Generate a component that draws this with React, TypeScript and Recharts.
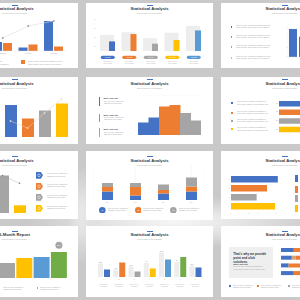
import React from 'react';
import { BarChart, Bar, ComposedChart, Line, XAxis, YAxis, CartesianGrid, Cell, LabelList } from 'recharts';

// palette
const BLUE = '#4472c4';
const ORANGE = '#ed7d31';
const GRAY = '#a5a5a5';
const YELLOW = '#ffc000';
const SKY = '#5b9bd5';
const GREEN = '#70ad47';
const PALE = '#ededed';
const INK = '#30343c';
const FONT = '"Liberation Sans", Arial, sans-serif';
const FILLER =
  'There are many variations of passages of Lorem Ipsum available, but the majority have suffered alteration in some form, by injected humour.';

// slide 1: grouped bars with trend line
const s1Cats = ['Standard', 'Premium', 'Business'];
const s1Blue = [9, 3.5, 30];
const s1Orange = [8, 6.5, 4.5];
const s1Trend = [13, 25, 30];

// slide 2: value vs. target
const s2Cats = ['A', 'B', 'C', 'D', 'E'];
const s2Target = [35, 41, 28, 40, 55];
const s2Value = [21, 37, 16, 24, 45];
const s2Ticks = [0, 10, 20, 30, 40, 50, 60, 70];

// slide 3: single column chart
const s3Cats = ['Name', 'Name', 'Name'];
const s3Values = [5.8, 4.2, 3.5];
const s3Ticks = [0, 1, 2, 3, 4, 5, 6];

// slide 4: four columns with trend
const s4Cats = ['Q1', 'Q2', 'Q3', 'Q4'];
const s4Values = [32, 18.5, 26.5, 33.5];
const s4Trend = [16, 9, 24, 38];

// slide 5: histogram
const s5Bins = ['1', '2', '3', '4', '5', '6'];
const s5Values = [12.5, 17.5, 28.5, 30, 22, 14.5];

// slide 6: horizontal bars
const s6Cats = ['Text', 'Text', 'Text', 'Text'];
const s6Values = [82, 76, 70, 79];

// slide 7: two columns with pointer
const s7Cats = ['A', 'B'];
const s7Values = [37.5, 7.7];
const s7Pointer = [37.5, 29.7];

// slide 8: stacked columns
const s8Cats = ['Text', 'Text', 'Text', 'Text'];
const s8Blue = [8.5, 4.5, 6.5, 8.5];
const s8Orange = [4.5, 8.5, 3.5, 5];
const s8Gray = [4, 4, 5.5, 9];

// slide 9: horizontal bars on 0-6 scale
const s9Cats = ['1', '2', '3', '4'];
const s9Values = [5.2, 4.0, 2.85, 4.9];
const s9Ticks = [0, 1, 2, 3, 4, 5, 6];

// slide 10: six month report
const s10Months = ['Jan', 'Feb', 'Mar', 'Apr'];
const s10Values = [15, 20, 21, 26];

// slide 11: paired columns
const s11Cats = ['1', '2', '3', '4', '5', '6', '7'];
const s11Base = [13.5, 7.5, 10.5, 14, 24.5, 15, 11.5];
const s11Values = [7.5, 14.5, 5.5, 8.5, 17.5, 20, 9.5];

// slide 12: 100% stacked rows
const s12Cats = ['A', 'B', 'C', 'D'];
const s12Blue = [32, 27, 19, 32];
const s12Gray = [0, 10, 0, 0];
const s12Orange = [68, 63, 81, 68];

const s1Data = s1Cats.map((name, i) => ({ name, blue: s1Blue[i], orange: s1Orange[i], trend: s1Trend[i] }));
const s2Data = s2Cats.map((name, i) => ({ name, target: s2Target[i], value: s2Value[i] }));
const s3Data = s3Cats.map((name, i) => ({ name, value: s3Values[i] }));
const s4Data = s4Cats.map((name, i) => ({ name, value: s4Values[i], trend: s4Trend[i] }));
const s5Data = s5Bins.map((name, i) => ({ name, value: s5Values[i] }));
const s6Data = s6Cats.map((name, i) => ({ name, value: s6Values[i] }));
const s7Data = s7Cats.map((name, i) => ({ name, value: s7Values[i], pointer: s7Pointer[i] }));
const s8Data = s8Cats.map((name, i) => ({ name, blue: s8Blue[i], orange: s8Orange[i], gray: s8Gray[i] }));
const s9Data = s9Cats.map((name, i) => ({ name, value: s9Values[i] }));
const s10Data = s10Months.map((name, i) => ({
  name,
  value: s10Values[i],
  badge: i === s10Months.length - 1 ? s10Values[i] : null,
}));
const s11Data = s11Cats.map((name, i) => ({ name, base: s11Base[i], value: s11Values[i] }));
const s12Data = s12Cats.map((name, i) => ({ name, blue: s12Blue[i], gray: s12Gray[i], orange: s12Orange[i] }));

const s2Colors = [BLUE, ORANGE, GRAY, YELLOW, SKY];
const s4Colors = [BLUE, ORANGE, GRAY, YELLOW];
const s5Colors = [BLUE, BLUE, ORANGE, ORANGE, GRAY, GRAY];
const s7Colors = [GRAY, YELLOW];
const s9Colors = [BLUE, ORANGE, GRAY, YELLOW];
const s10Colors = [GRAY, YELLOW, SKY, GREEN];
const s11Colors = [BLUE, ORANGE, GRAY, YELLOW, SKY, GREEN, BLUE];
const LIST4 = [BLUE, ORANGE, GRAY, YELLOW];

const NO_MARGIN = { top: 0, right: 0, bottom: 0, left: 0 };

const Slide = ({ left, top, height, titleY, title = 'Statistical Analysis', children }: any) => (
  <div style={{ position: 'absolute', left, top, width: 127, height, background: '#fff', overflow: 'hidden' }}>
    <div style={{ position: 'absolute', left: 60.5, top: titleY - 4.4, width: 6, height: 0.7, background: BLUE }} />
    <div
      style={{
        position: 'absolute', left: 0, top: titleY - 2.6, width: 127, height: 5.2, lineHeight: '5.2px',
        fontSize: 4.2, fontWeight: 700, color: INK, textAlign: 'center', whiteSpace: 'nowrap',
      }}
    >
      {title}
    </div>
    <div
      style={{
        position: 'absolute', left: 0, top: titleY + 4.2, width: 127, lineHeight: '1.8px',
        fontSize: 1.5, color: '#9a9a9a', textAlign: 'center', whiteSpace: 'nowrap',
      }}
    >
      Insert the subtitle of your presentation
    </div>
    {children}
  </div>
);

const Note = ({ x, y, w, lines = 2, size = 1.6, color = '#a0a0a0', align = 'left' }: any) => (
  <div
    style={{
      position: 'absolute', left: x, top: y, width: w, height: lines * size * 1.45, overflow: 'hidden',
      fontSize: size, lineHeight: `${size * 1.45}px`, color, textAlign: align,
    }}
  >
    {FILLER}
  </div>
);

const Square = ({ x, y, size = 1.8, color }: any) => (
  <div style={{ position: 'absolute', left: x, top: y, width: size, height: size, background: color }} />
);

const Place = ({ x, y, children }: any) => <div style={{ position: 'absolute', left: x, top: y }}>{children}</div>;

const PillTick = ({ x, y, index }: any) => (
  <g>
    <rect x={x - 7} y={y + 4.7} width={14} height={3.3} rx={1.65} fill={s2Colors[index]} />
    <text x={x} y={y + 6.9} textAnchor="middle" fontSize={1.5} fill="#fff">Your Title</text>
    <text x={x} y={y + 10.6} textAnchor="middle" fontSize={1.3} fill="#aaa">Insert your text</text>
    <text x={x} y={y + 12.6} textAnchor="middle" fontSize={1.3} fill="#aaa">here to explain</text>
  </g>
);

const NumberTick = ({ x, y, payload }: any) => (
  <g>
    <text x={x} y={y + 2.6} textAnchor="middle" fontSize={1.6} fill="#999">{payload.value}</text>
    <text x={x} y={y + 7.6} textAnchor="middle" fontSize={1.3} fill="#aaa">Place your text</text>
    <text x={x} y={y + 10.4} textAnchor="middle" fontSize={1.3} fill="#aaa">in this area</text>
  </g>
);

const Badge = ({ x, y, width, value }: any) => {
  if (value == null) return null;
  const cx = x + width / 2;
  return (
    <g>
      <circle cx={cx} cy={y - 6.7} r={3.5} fill={GRAY} />
      <text x={cx} y={y - 6.1} textAnchor="middle" fontSize={1.8} fill="#fff">{value}%</text>
    </g>
  );
};

const TagIcon = ({ color }: any) => (
  <svg width={7} height={6.7} viewBox="0 0 7 6.7" style={{ display: 'block' }}>
    <polygon points="0,0 4.8,0 7,3.35 4.8,6.7 0,6.7" fill={color} />
    <circle cx={3} cy={3.35} r={1.3} fill="none" stroke="#fff" strokeWidth={0.5} />
  </svg>
);

const NumCircle = ({ color, label }: any) => (
  <svg width={6.6} height={6.6} viewBox="0 0 6.6 6.6" style={{ display: 'block' }}>
    <circle cx={3.3} cy={3.3} r={3.3} fill={color} />
    <text x={3.3} y={4} textAnchor="middle" fontSize={2} fill="#fff">{label}</text>
  </svg>
);

const tinyTick = { fontSize: 1.6, fill: '#aaa' };

export default function App() {
  return (
    <div
      style={{
        position: 'fixed', left: 0, top: 0, width: 300, height: 300, overflow: 'hidden', fontFamily: FONT,
        background:
          'radial-gradient(ellipse 150px 26px at 175px 222px, #f6f6f6 0%, #e4e4e4 45%, rgba(205,205,205,0) 100%), ' +
          'radial-gradient(ellipse 14px 50px at 82px 215px, #eeeeee 0%, rgba(205,205,205,0) 100%), #c9c9c9',
      }}
    >
      {/* row 1 */}
      <Slide left={-49} top={3} height={65} titleY={6}>
        <Place x={39} y={8}>
          <ComposedChart width={76.5} height={45} data={s1Data} margin={NO_MARGIN} barGap={1}>
            <XAxis dataKey="name" height={5} tickSize={0} tickMargin={1.5} tick={tinyTick} axisLine={{ stroke: '#e6e6e6', strokeWidth: 0.4 }} />
            <YAxis hide domain={[0, 40]} />
            <Bar dataKey="blue" fill={BLUE} barSize={9} isAnimationActive={false} />
            <Bar dataKey="orange" fill={ORANGE} barSize={9} isAnimationActive={false} />
            <Line dataKey="trend" stroke="#dedede" strokeWidth={0.6} dot={{ r: 0.9, fill: '#999', stroke: 'none' }} isAnimationActive={false} />
          </ComposedChart>
        </Place>
        <Note x={40} y={58.3} w={18} />
        <Square x={70} y={57} size={4} color={ORANGE} />
        <Note x={77} y={58.3} w={38} />
      </Slide>

      <Slide left={86} top={3} height={65} titleY={6}>
        <Place x={5.25} y={15}>
          <BarChart width={113.5} height={47} data={s2Data} margin={{ top: 1, right: 0, bottom: 0, left: 0 }} barGap={-5}>
            <XAxis dataKey="name" height={14} tickSize={0} tickMargin={0} axisLine={false} tick={<PillTick />} />
            <YAxis width={6} domain={[0, 70]} ticks={s2Ticks} tickSize={0} tickMargin={1} axisLine={false} tick={{ fontSize: 1.5, fill: '#bbb' }} />
            <Bar dataKey="target" fill={PALE} barSize={14} isAnimationActive={false} />
            <Bar dataKey="value" barSize={6} isAnimationActive={false}>
              {s2Data.map((_, i) => <Cell key={i} fill={s2Colors[i]} />)}
            </Bar>
          </BarChart>
        </Place>
      </Slide>

      <Slide left={221} top={3} height={65} titleY={6}>
        {LIST4.map((c, i) => (
          <React.Fragment key={i}>
            <Square x={9.5} y={[22.8, 32.8, 43.1, 54.1][i]} size={1.9} color={c} />
            <Note x={15} y={[21.8, 31.8, 42.1, 53.1][i]} w={37} />
          </React.Fragment>
        ))}
        <Place x={63} y={24}>
          <BarChart width={34} height={35} data={s3Data} margin={{ top: 1, right: 0, bottom: 0, left: 0 }}>
            <XAxis dataKey="name" height={5} tickSize={0} tickMargin={1.5} tick={tinyTick} axisLine={{ stroke: '#ddd', strokeWidth: 0.4 }} />
            <YAxis width={4} domain={[0, 6]} ticks={s3Ticks} tickSize={0} tickMargin={0.8} tick={{ fontSize: 1.4, fill: '#bbb' }} axisLine={{ stroke: '#e3e3e3', strokeWidth: 0.4 }} />
            <Bar dataKey="value" fill={BLUE} barSize={8} isAnimationActive={false} />
          </BarChart>
        </Place>
      </Slide>

      {/* row 2 */}
      <Slide left={-49} top={77} height={67} titleY={6.8}>
        <Place x={50.5} y={20}>
          <ComposedChart width={68} height={40} data={s4Data} margin={NO_MARGIN}>
            <XAxis dataKey="name" hide />
            <YAxis hide domain={[0, 40]} />
            <Bar dataKey="value" barSize={12} isAnimationActive={false}>
              {s4Data.map((_, i) => <Cell key={i} fill={s4Colors[i]} />)}
            </Bar>
            <Line dataKey="trend" stroke="#f3c9a8" strokeWidth={0.5} dot={{ r: 0.8, fill: '#fff', stroke: '#bbb', strokeWidth: 0.3 }} isAnimationActive={false} />
          </ComposedChart>
        </Place>
      </Slide>

      <Slide left={86} top={77} height={67} titleY={6.8}>
        {[BLUE, ORANGE, GRAY].map((c, i) => (
          <React.Fragment key={i}>
            <div style={{ position: 'absolute', left: 12.5, top: [20, 36.5, 51][i], width: 1.6, height: 8.5, background: c }} />
            <div style={{ position: 'absolute', left: 17.5, top: [20.2, 36.7, 51.2][i], fontSize: 2, lineHeight: '2.2px', color: INK, fontWeight: 700, whiteSpace: 'nowrap' }}>
              Write Your Title
            </div>
            <Note x={17.5} y={[23.6, 40.1, 54.6][i]} w={21} />
          </React.Fragment>
        ))}
        <Place x={52} y={18}>
          <BarChart width={63} height={40} data={s5Data} margin={NO_MARGIN} barCategoryGap={0}>
            <CartesianGrid vertical={false} stroke="#efefef" strokeWidth={0.4} />
            <XAxis dataKey="name" hide />
            <YAxis hide domain={[0, 40]} ticks={[0, 8, 16, 24, 32, 40]} />
            <Bar dataKey="value" isAnimationActive={false}>
              {s5Data.map((_, i) => <Cell key={i} fill={s5Colors[i]} />)}
            </Bar>
          </BarChart>
        </Place>
      </Slide>

      <Slide left={221} top={77} height={67} titleY={6.8}>
        {LIST4.map((c, i) => (
          <React.Fragment key={i}>
            <Square x={10} y={[25.4, 34.8, 43.1, 51.4][i]} size={1.8} color={c} />
            <Note x={15.5} y={[24.4, 33.8, 42.1, 50.4][i]} w={33} />
          </React.Fragment>
        ))}
        <Place x={53.7} y={22.2}>
          <BarChart width={54} height={34.4} data={s6Data} layout="vertical" margin={NO_MARGIN}>
            <XAxis type="number" hide domain={[0, 100]} />
            <YAxis type="category" dataKey="name" width={4} tickSize={0} tickMargin={0.6} axisLine={false} tick={{ fontSize: 1.4, fill: '#aaa' }} />
            <Bar dataKey="value" barSize={5.5} isAnimationActive={false}>
              {s6Data.map((_, i) => <Cell key={i} fill={s9Colors[i]} />)}
            </Bar>
          </BarChart>
        </Place>
      </Slide>

      {/* row 3 */}
      <Slide left={-49} top={151} height={68} titleY={9.3}>
        <Place x={42.5} y={21.7}>
          <ComposedChart width={34} height={40} data={s7Data} margin={NO_MARGIN}>
            <XAxis dataKey="name" hide />
            <YAxis hide domain={[0, 40]} />
            <Bar dataKey="value" barSize={12} isAnimationActive={false}>
              {s7Data.map((_, i) => <Cell key={i} fill={s7Colors[i]} />)}
            </Bar>
            <Line dataKey="pointer" stroke="#9a9a9a" strokeWidth={0.35} dot={{ r: 0.8, fill: '#777', stroke: 'none' }} isAnimationActive={false} />
          </ComposedChart>
        </Place>
        {LIST4.map((c, i) => (
          <React.Fragment key={i}>
            <Place x={85} y={[21.3, 32, 43, 54][i]}>
              <TagIcon color={c} />
            </Place>
            <Note x={96} y={[22.4, 33.1, 44.1, 55.1][i]} w={22} />
          </React.Fragment>
        ))}
      </Slide>

      <Slide left={86} top={151} height={69} titleY={9.3}>
        <Place x={6.5} y={14}>
          <BarChart width={112} height={39} data={s8Data} margin={NO_MARGIN}>
            <CartesianGrid horizontal={false} stroke="#e9e9e9" strokeWidth={0.4} />
            <XAxis dataKey="name" height={4} tickSize={0} tickMargin={1.8} axisLine={false} tick={{ fontSize: 1.4, fill: '#aaa' }} />
            <YAxis hide domain={[0, 35]} />
            <Bar dataKey="blue" stackId="s" fill={BLUE} barSize={11} isAnimationActive={false} />
            <Bar dataKey="orange" stackId="s" fill={ORANGE} barSize={11} isAnimationActive={false} />
            <Bar dataKey="gray" stackId="s" fill={GRAY} barSize={11} isAnimationActive={false} />
          </BarChart>
        </Place>
        {[BLUE, ORANGE, GRAY].map((c, i) => (
          <React.Fragment key={i}>
            <Place x={[13.2, 48.7, 84.4][i]} y={55.7}>
              <NumCircle color={c} label={`0${i + 1}`} />
            </Place>
            <Note x={[21.5, 57, 92.7][i]} y={56.8} w={22} />
          </React.Fragment>
        ))}
      </Slide>

      <Slide left={221} top={151} height={68} titleY={9.3}>
        <Place x={5} y={23.5}>
          <BarChart width={61} height={41} data={s9Data} layout="vertical" margin={{ top: 0, right: 2, bottom: 0, left: 0 }}>
            <XAxis type="number" domain={[0, 6]} ticks={s9Ticks} height={5} tickSize={0} tickMargin={1.5} axisLine={false} tick={tinyTick} />
            <YAxis type="category" dataKey="name" width={5} tickSize={0} tickMargin={1.5} axisLine={false} tick={tinyTick} />
            <Bar dataKey="value" barSize={6.5} isAnimationActive={false}>
              {s9Data.map((_, i) => <Cell key={i} fill={s9Colors[i]} />)}
            </Bar>
          </BarChart>
        </Place>
        {LIST4.map((c, i) => (
          <div key={i} style={{ position: 'absolute', left: 74, top: [24, 35, 44, 54][i], width: 2.5, height: 7, background: c }} />
        ))}
      </Slide>

      {/* row 4 */}
      <Slide left={-49} top={226} height={71} titleY={9} title="6-Month Report">
        <Place x={46.5} y={14}>
          <BarChart width={69.2} height={38} data={s10Data} margin={{ top: 8, right: 0, bottom: 0, left: 0 }}>
            <XAxis dataKey="name" hide />
            <YAxis hide domain={[0, 30]} />
            <Bar dataKey="value" barSize={16} isAnimationActive={false}>
              {s10Data.map((_, i) => <Cell key={i} fill={s10Colors[i]} />)}
              <LabelList dataKey="badge" content={<Badge />} />
            </Bar>
          </BarChart>
        </Place>
        <Note x={52} y={60.5} w={24} />
        <Square x={85.7} y={61} size={1.6} color={GRAY} />
        <Note x={89} y={60.5} w={25} />
      </Slide>

      <Slide left={86} top={226} height={71} titleY={9}>
        <Place x={10} y={17.7}>
          <BarChart width={106.75} height={46} data={s11Data} margin={{ top: 3, right: 0, bottom: 0, left: 0 }} barGap={1}>
            <XAxis dataKey="name" height={13} tickSize={0} tickMargin={0} axisLine={false} tick={<NumberTick />} />
            <YAxis hide domain={[0, 30]} />
            <Bar dataKey="base" fill={PALE} barSize={5} isAnimationActive={false}>
              <LabelList dataKey="base" position="top" offset={0.8} fontSize={1.6} fill="#888" />
            </Bar>
            <Bar dataKey="value" barSize={6} isAnimationActive={false}>
              {s11Data.map((_, i) => <Cell key={i} fill={s11Colors[i]} />)}
            </Bar>
          </BarChart>
        </Place>
      </Slide>

      <Slide left={221} top={226} height={71} titleY={9}>
        <div style={{ position: 'absolute', left: 8, top: 20.7, width: 44, height: 31, background: '#efefef' }}>
          <div style={{ position: 'absolute', left: 4.3, top: 5.3, width: 37, fontSize: 3.1, lineHeight: '4px', fontWeight: 700, color: INK }}>
            That's why we provide point and click solutions.
          </div>
          <div style={{ position: 'absolute', left: 4.3, top: 16.3, fontSize: 2, lineHeight: '2.4px', fontWeight: 700, color: INK, whiteSpace: 'nowrap' }}>
            Write Your Title
          </div>
          <Note x={4.3} y={19.8} w={33} />
        </div>
        <Place x={60} y={20}>
          <BarChart width={40} height={30.8} data={s12Data} layout="vertical" margin={NO_MARGIN}>
            <XAxis type="number" hide domain={[0, 100]} />
            <YAxis type="category" dataKey="name" hide />
            <Bar dataKey="blue" stackId="r" fill={BLUE} barSize={4} isAnimationActive={false} />
            <Bar dataKey="gray" stackId="r" fill="#d9a27a" barSize={4} isAnimationActive={false} />
            <Bar dataKey="orange" stackId="r" fill={ORANGE} barSize={4} isAnimationActive={false} />
          </BarChart>
        </Place>
        {[BLUE, ORANGE, GRAY].map((c, i) => (
          <React.Fragment key={i}>
            <Square x={[8, 36, 67][i]} y={59.3} size={1.5} color={c} />
            <Note x={[11.5, 39.5, 70.5][i]} y={58.5} w={22} />
          </React.Fragment>
        ))}
      </Slide>
    </div>
  );
}
